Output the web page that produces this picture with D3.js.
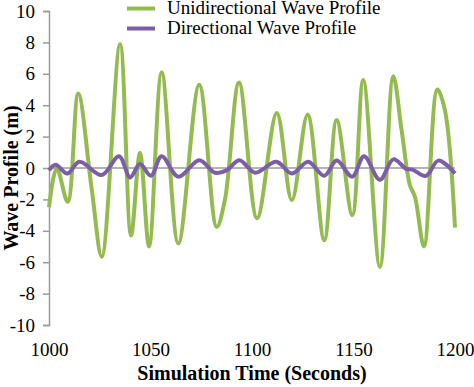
<!DOCTYPE html>
<html>
<head>
<meta charset="utf-8">
<script src="https://cdn.jsdelivr.net/npm/d3@7"></script>
<style>
  body { margin: 0; background: #fff; }
  text { font-family: "Liberation Serif", "Times New Roman", serif; fill: #000; }
</style>
</head>
<body>
<div id="chart"></div>
<script>
// unidirectional wave
let uniTime  = [1000, 1003.8, 1009.2, 1014.4, 1021, 1026, 1035, 1040.4, 1044.8, 1049.3,
                1055.5, 1063.7, 1074, 1082.6, 1086.7, 1093.6, 1102.5, 1112.2, 1119.6, 1127.4,
                1135.6, 1141.7, 1149.4, 1154.8, 1163, 1169.6, 1173.7, 1177.8, 1180.3, 1184.7,
                1191.3, 1195, 1200];
let uniValue = [-2.5, 0.0, -2.15, 4.75, -1.3, -5.65, 7.9, -4.3, 0.95, -5.0,
                6.1, -4.8, 5.3, -3.75, -2.0, 5.45, -3.2, 3.5, -2.05, 3.4,
                -4.6, 3.05, -3.0, 5.6, -6.3, 5.85, 2.4, -1.1, -1.85, -5.0,
                5.0, 3.7, -3.8];

// directional wave
let dirTime  = [1000, 1003.3, 1009, 1015, 1026, 1034.5, 1040, 1044.8, 1050.2, 1055.5,
                1063.7, 1074, 1081.8, 1087.5, 1093.8, 1101.5, 1112, 1119.6, 1127.7, 1135.6,
                1141.7, 1149.4, 1155.2, 1163, 1169.6, 1176, 1179, 1185.7, 1191.8, 1200];
let dirValue = [-0.15, 0.2, -0.35, 0.4, -0.45, 0.75, -0.6, 0.25, -0.5, 0.75,
                -0.55, 0.5, -0.3, -0.15, 0.5, -0.3, 0.4, -0.35, 0.4, -0.5,
                0.47, -0.55, 0.75, -0.75, 0.55, -0.05, -0.1, -0.5, 0.47, -0.35];

let xTicks = [1000, 1050, 1100, 1150, 1200];
let yTicks = d3.range(-10, 11, 2);

let seriesNames = ["Unidirectional Wave Profile", "Directional Wave Profile"];
let seriesColors = ["#93bb4f", "#7b5ea7"];

const serif = '"Liberation Serif", "Times New Roman", serif';

let width = 474, height = 387;
let margin = {top: 11, right: 19, bottom: 62, left: 49};

let svg = d3.select("#chart")
            .append("svg")
            .attr("width", width)
            .attr("height", height);

let x = d3.scaleLinear().domain([1000, 1200]).range([margin.left, width - margin.right]);
let y = d3.scaleLinear().domain([-10, 10]).range([height - margin.bottom, margin.top]);

// y axis
let yAxis = svg.append("g")
  .attr("transform", `translate(${margin.left},0)`)
  .call(d3.axisLeft(y).tickValues(yTicks).tickSize(6).tickPadding(8).tickFormat(d => String(d)));
yAxis.attr("font-family", serif).attr("font-size", 19);
yAxis.select(".domain").attr("stroke", "#9a9a9a").attr("stroke-width", 1.5);
yAxis.selectAll(".tick line").attr("stroke", "#9a9a9a").attr("stroke-width", 1.5);

// x tick labels only, no axis line
let xAxis = svg.append("g")
  .attr("transform", `translate(0,${height - margin.bottom})`)
  .call(d3.axisBottom(x).tickValues(xTicks).tickSize(0).tickPadding(18).tickFormat(d => String(d)));
xAxis.attr("font-family", serif).attr("font-size", 19);
xAxis.select(".domain").remove();

// zero line
svg.append("line")
  .attr("x1", x(1000)).attr("x2", x(1200))
  .attr("y1", y(0)).attr("y2", y(0))
  .attr("stroke", "#9a9a9a")
  .attr("stroke-width", 1.5);

let line = d3.line()
  .x(d => x(d[0]))
  .y(d => y(d[1]))
  .curve(d3.curveCatmullRom.alpha(0.5));

let uniData = uniTime.map((t, i) => [t, uniValue[i]]);
let dirData = dirTime.map((t, i) => [t, dirValue[i]]);

svg.append("path")
  .datum(uniData)
  .attr("d", line)
  .attr("fill", "none")
  .attr("stroke", seriesColors[0])
  .attr("stroke-width", 4);

svg.append("path")
  .datum(dirData)
  .attr("d", line)
  .attr("fill", "none")
  .attr("stroke", seriesColors[1])
  .attr("stroke-width", 4);

// legend
let legend = svg.selectAll(".legend")
  .data(seriesNames)
  .enter()
  .append("g")
  .attr("class", "legend")
  .attr("transform", (d, i) => `translate(127,${8.5 + i * 20})`);

legend.append("line")
  .attr("x1", 0).attr("x2", 28)
  .attr("stroke", (d, i) => seriesColors[i])
  .attr("stroke-width", 4);

legend.append("text")
  .attr("x", 40)
  .attr("dy", "0.3em")
  .style("font-size", "19px")
  .text(d => d);

// axis titles
svg.append("text")
  .attr("x", x(1100))
  .attr("y", 380)
  .attr("text-anchor", "middle")
  .style("font-size", "20px")
  .style("font-weight", "bold")
  .text("Simulation Time (Seconds)");

svg.append("text")
  .attr("transform", "translate(18,178) rotate(-90)")
  .attr("text-anchor", "middle")
  .style("font-size", "20px")
  .style("font-weight", "bold")
  .text("Wave Profile (m)");
</script>
</body>
</html>
